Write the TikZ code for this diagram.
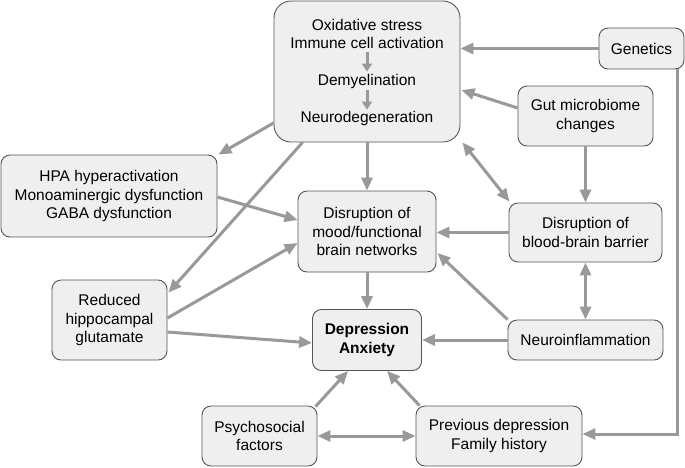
\documentclass[tikz,border=0pt]{standalone}
\usepackage{fontspec}
\setmainfont{Liberation Sans}
\usetikzlibrary{arrows.meta,calc}
\definecolor{boxfill}{HTML}{EFEFEF}
\definecolor{boxline}{HTML}{555555}
\definecolor{arrcol}{HTML}{999999}
\begin{document}
\begin{tikzpicture}[x=1pt,y=-1pt,
  font=\fontsize{15.5}{18.5}\selectfont,
  box/.style={draw=boxline,fill=boxfill,line width=0.9pt,rounded corners=9pt,
    align=center,inner sep=0pt},
  plain/.style={align=center,inner sep=0pt},
  arr/.style={draw=arrcol,line width=3pt,-{Triangle[length=13pt,width=11pt]}},
  darr/.style={draw=arrcol,line width=3pt,{Triangle[length=13pt,width=11pt]}-{Triangle[length=13pt,width=11pt]}},
  sarr/.style={draw=arrcol,line width=3pt,-{Triangle[length=8pt,width=10pt]}}]
\useasboundingbox (0,0) rectangle (685,467);
\fill[white] (0,0) rectangle (685,467);

% boxes
\node[box,rounded corners=17pt,minimum width=186pt,minimum height=141pt] (top) at (367,71.5) {};
\node[plain] (t1) at (367,34) {Oxidative stress\\Immune cell activation};
\node[plain] (t2) at (367,81) {Demyelination};
\node[plain] (t3) at (367,118) {Neurodegeneration};

\node[box,minimum width=85pt,minimum height=41pt] (gen) at (641.5,48.5) {Genetics};
\node[box,minimum width=135pt,minimum height=60pt] (gut) at (585.5,116) {Gut microbiome\\changes};
\node[box,minimum width=216pt,minimum height=82pt] (hpa) at (109,196) {HPA hyperactivation\\Monoaminergic dysfunction\\GABA dysfunction};
\node[box,minimum width=115pt,minimum height=80pt] (red) at (109.5,320) {Reduced\\hippocampal\\glutamate};
\node[box,minimum width=138pt,minimum height=81pt] (mood) at (367,231.5) {Disruption of\\mood/functional\\brain networks};
\node[box,minimum width=153pt,minimum height=59pt] (bbb) at (585.5,232.5) {Disruption of\\blood-brain barrier};
\node[box,minimum width=109pt,minimum height=61pt] (dep) at (367,340) {\bfseries Depression\\\bfseries Anxiety};
\node[box,minimum width=155pt,minimum height=40pt] (neuro) at (585.5,340) {Neuroinflammation};
\node[box,minimum width=115pt,minimum height=60pt] (psy) at (259.5,436) {Psychosocial\\factors};
\node[box,minimum width=166pt,minimum height=60pt] (prev) at (499,436) {Previous depression\\Family history};

% internal arrows
\draw[sarr] ($(t1.south)+(0,3)$) -- ($(t2.north)+(0,-2)$);
\draw[sarr] ($(t2.south)+(0,2)$) -- ($(t3.north)+(0,-1)$);

% connectors
\draw[arr] (gen.west) -- (gen.west -| top.east);
\draw[arr] ($(gut.west)+(0,-8)$) -- ($(top.east)+(1,18.5)$);
\draw[arr] (gut.south) -- (bbb.north);
\draw[darr] ($(top.south east)+(2,0)$) -- ($(bbb.north west)+(1,-1)$);
\draw[arr] ($(top.west)+(0,51.5)$) -- ($(hpa.north east)+(1,0)$);
\draw[arr] ($(top.south west)+(29,0)$) -- ($(red.north east)+(1,13)$);
\draw[arr] (top.south) -- (mood.north);
\draw[arr] ($(hpa.east)+(0,1)$) -- ($(mood.west)+(0,-11.5)$);
\draw[arr] ($(red.east)+(0,-2)$) -- ($(mood.west)+(0,11.5)$);
\draw[arr] ($(red.east)+(0,12)$) -- ($(dep.west)+(0,3)$);
\draw[arr] (bbb.west) -- (bbb.west -| mood.east);
\draw[darr] (bbb.south) -- (neuro.north);
\draw[arr] (neuro.north west) -- ($(mood.east)+(1,21.5)$);
\draw[arr] (neuro.west) -- (dep.east);
\draw[arr] (mood.south) -- (dep.north);
\draw[arr] ($(psy.north east)+(-2,1)$) -- ($(dep.south)+(-19,0)$);
\draw[arr] ($(prev.north west)+(4,0)$) -- ($(dep.south)+(20,0)$);
\draw[darr] (psy.east) -- (prev.west);
\draw[arr] ($(gen.south east)+(-7,0)$) |- ($(prev.east)+(0,-2)$);
\end{tikzpicture}
\end{document}
